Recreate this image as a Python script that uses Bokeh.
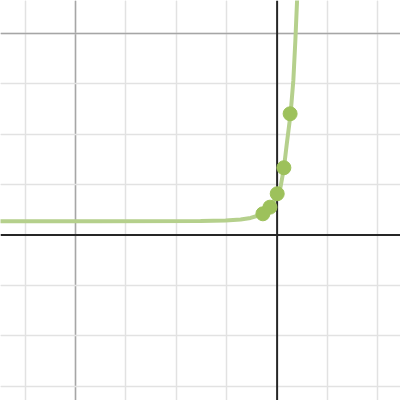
from bokeh.plotting import figure
from bokeh.models import Grid, FixedTicker, Span, Range1d
from bokeh.embed import file_html
from bokeh.resources import INLINE

# curve samples
curve_x = [-2.78, -1.751, -0.759, -0.511, -0.362, -0.263, -0.184, -0.144, -0.104,
           -0.064, -0.035, 0.0, 0.035, 0.067, 0.094, 0.134, 0.161, 0.181, 0.198, 0.206]
curve_y = [0.137, 0.137, 0.139, 0.144, 0.154, 0.169, 0.193, 0.213, 0.243,
           0.288, 0.332, 0.392, 0.481, 0.660, 0.888, 1.205, 1.533, 1.929, 2.326, 2.525]

# data points
pts_x = [-0.141, -0.071, 0.001, 0.067, 0.129]
pts_y = [0.210, 0.276, 0.409, 0.667, 1.202]

minor_ticks = [-3.0, -2.5, -2.0, -1.5, -1.0, -0.5, 0.5, 1.0, 1.5, 2.0, 2.5]
major_ticks = [-2.0, 2.0]

p = figure(width=400, height=400, output_backend="svg", toolbar_location=None,
           x_axis_location=None, y_axis_location=None,
           x_range=Range1d(-2.744, 1.224), y_range=Range1d(-1.642, 2.326),
           min_border=0, outline_line_color=None, background_fill_color="white")

for dim in (0, 1):
    p.add_layout(Grid(dimension=dim, ticker=FixedTicker(ticks=minor_ticks),
                      grid_line_color="#e2e2e2", grid_line_width=1.5))
    p.add_layout(Grid(dimension=dim, ticker=FixedTicker(ticks=major_ticks),
                      grid_line_color="#a6a6a6", grid_line_width=1.5))

p.add_layout(Span(location=0, dimension="width", line_color="#262626",
                  line_width=2, level="underlay"))
p.add_layout(Span(location=0, dimension="height", line_color="#262626",
                  line_width=2, level="underlay"))

p.line(curve_x, curve_y, line_color="#b5d08c", line_width=4)
p.scatter(pts_x, pts_y, size=14, fill_color="#9dc15b", line_color="#9dc15b")

open("out.html", "w").write(file_html(p, INLINE))
